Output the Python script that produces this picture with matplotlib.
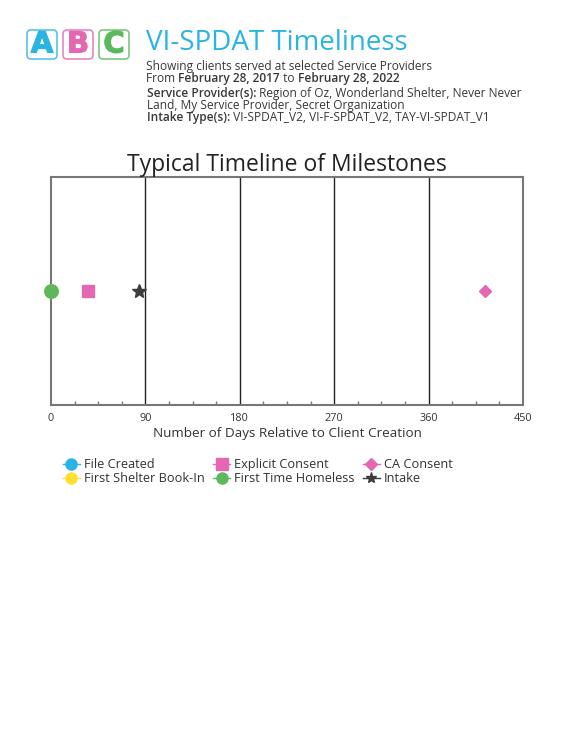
import numpy as np
import matplotlib.pyplot as plt
import matplotlib.patheffects as pe
from matplotlib.patches import FancyBboxPatch
from matplotlib.lines import Line2D

plt.rcParams['font.family'] = ['Open Sans', 'DejaVu Sans']

# milestone data (days relative to client creation)
milestones = ['File Created', 'First Shelter Book-In', 'Explicit Consent',
              'First Time Homeless', 'CA Consent', 'Intake']
days = [0, 0, 35, 0, 414, 84]
marker_list = ['o', 'o', 's', 'o', 'D', '*']
color_list = ['#2ab4e2', '#ffe033', '#e467b1', '#5cb85c', '#e467b1', '#3d3d3d']
size_list = [9.5, 9.5, 9, 9.5, 6.5, 10]
x_ticks = [0, 90, 180, 270, 360, 450]

W, H = 577, 747
fig = plt.figure(figsize=(W / 100, H / 100), dpi=100)


def fx(px):
    return px / W


def fy(py):
    return 1 - py / H


# logo
lax = fig.add_axes([fx(24), fy(61), fx(110), 34 / H])
lax.set_xlim(0, 110)
lax.set_ylim(0, 34)
lax.axis('off')
logo_letters = ['A', 'B', 'C']
logo_colors = ['#2ab4e2', '#e467b1', '#5cb85c']
for i, (letter, c) in enumerate(zip(logo_letters, logo_colors)):
    x0 = 1 + i * 36
    box = FancyBboxPatch((x0 + 2, 2), 30, 29, boxstyle='round,pad=0,rounding_size=4',
                         fc='white', ec=c, lw=1.2, alpha=0.8)
    lax.add_patch(box)
    lax.text(x0 + 17, 16.5, letter, color=c, fontsize=21, fontweight='bold',
             ha='center', va='center', family=['DejaVu Sans'],
             path_effects=[pe.withStroke(linewidth=0.8, foreground=c)])

# header texts
fig.text(fx(146), fy(43), 'VI-SPDAT Timeliness', color='#2ab4e2', fontsize=20,
         va='center', ha='left')

hdr = dict(fontsize=8.6, color='#383838', va='bottom')
last = None


def write_line(x, y, parts):
    global last
    first = True
    for txt, bold in parts:
        w = 'semibold' if bold else 'normal'
        if first:
            last = fig.text(fx(x), fy(y), txt, fontweight=w, **hdr)
            first = False
        else:
            last = fig.axes[0].annotate(txt, xy=(1, 0), xycoords=last,
                                        fontweight=w, annotation_clip=False, **hdr)


write_line(146, 73, [('Showing clients served at selected Service Providers', False)])
write_line(146, 85, [('From ', False), ('February 28, 2017', True), (' to ', False),
                     ('February 28, 2022', True)])
write_line(147, 100, [('Service Provider(s):', True),
                      (' Region of Oz, Wonderland Shelter, Never Never', False)])
write_line(147, 112, [('Land, My Service Provider, Secret Organization', False)])
write_line(147, 124, [('Intake Type(s):', True),
                      (' VI-SPDAT_V2, VI-F-SPDAT_V2, TAY-VI-SPDAT_V1', False)])

# chart
ax = fig.add_axes([fx(51), fy(405), fx(523) - fx(51), 228 / H])
for d, m, c, s in zip(days, marker_list, color_list, size_list):
    ax.plot([d], [0], marker=m, color=c, markersize=s, linestyle='none',
            clip_on=False, zorder=5)

ax.set_xlim(0, 450)
ax.set_ylim(-1, 1)
ax.set_yticks([])
ax.set_xticks(x_ticks)
ax.set_xticks(np.arange(0, 451, 22.5), minor=True)
ax.tick_params(axis='x', which='major', length=0, labelsize=7.8, colors='#333333', pad=6)
ax.tick_params(axis='x', which='minor', direction='in', length=3, color='#777777', width=1)
for v in x_ticks[1:-1]:
    ax.axvline(v, color='#222222', lw=1, zorder=1)
for sp in ax.spines.values():
    sp.set_color('#777777')
    sp.set_linewidth(1.5)
ax.set_title('Typical Timeline of Milestones', fontsize=16.5, color='#222222', pad=3)
ax.set_xlabel('Number of Days Relative to Client Creation', fontsize=9.7,
              color='#333333', labelpad=2)

handles = [Line2D([0], [0], marker=m, color=c, markersize=min(s, 8), lw=1)
           for m, c, s in zip(marker_list, color_list, size_list)]
fig.legend(handles, milestones, ncol=3, loc='upper left',
           bbox_to_anchor=(fx(58), fy(453)), frameon=False, fontsize=9.2,
           handlelength=1.3, handletextpad=0.3, columnspacing=0.7,
           labelspacing=0.1, borderaxespad=0, labelcolor='#333333')

fig.savefig('out.png', dpi=100)
